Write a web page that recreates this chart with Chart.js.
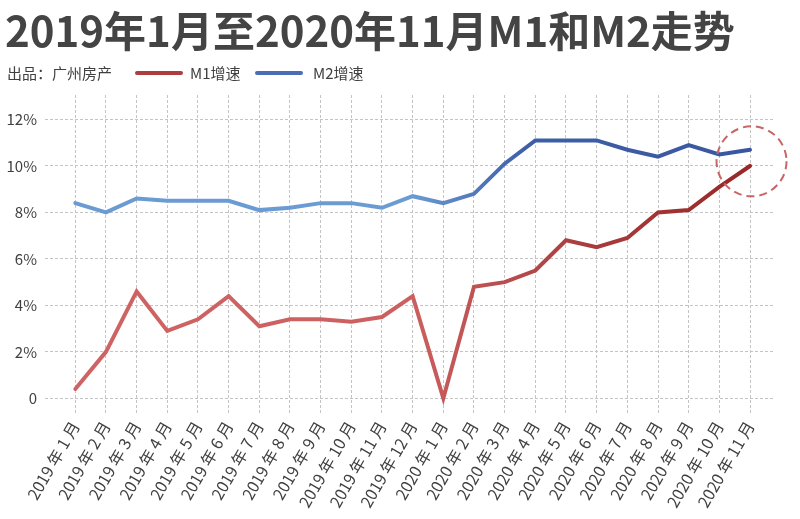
<!DOCTYPE html>
<html>
<head>
<meta charset="utf-8">
<script src="https://cdn.jsdelivr.net/npm/chart.js@4/dist/chart.umd.min.js"></script>
<style>
  html, body { margin: 0; padding: 0; background: #ffffff; }
  body { width: 800px; height: 519px; position: relative; overflow: hidden; font-family: "Noto Sans CJK SC", "Noto Sans", sans-serif; }
  #title { position: absolute; left: 5px; top: -1px; font-size: 42px; font-weight: bold; color: #444444; white-space: nowrap; line-height: 60px; }
  #legend { position: absolute; left: 7px; top: 62px; height: 22px; font-size: 15px; color: #404040; white-space: nowrap; line-height: 22px; }
  #legend span { position: absolute; top: 0; }
  .sw { position: absolute; top: 9px; height: 4px; border-radius: 2px; width: 48px; }
  #wrap { position: absolute; left: 0; top: 0; width: 800px; height: 519px; }
</style>
</head>
<body>
<div id="wrap"><canvas id="c" width="800" height="519"></canvas></div>
<div id="title">2019年1月至2020年11月M1和M2走势</div>
<div id="legend">
  <span style="left:0px">出品：广州房产</span>
  <div class="sw" style="left:128px;background:#b03d3d"></div>
  <span style="left:183px">M1增速</span>
  <div class="sw" style="left:248px;background:#4a6db5"></div>
  <span style="left:306px">M2增速</span>
</div>
<script>
const categories = ["2019 年 1 月","2019 年 2 月","2019 年 3 月","2019 年 4 月","2019 年 5 月","2019 年 6 月","2019 年 7 月","2019 年 8 月","2019 年 9 月","2019 年 10 月","2019 年 11 月","2019 年 12 月","2020 年 1 月","2020 年 2 月","2020 年 3 月","2020 年 4 月","2020 年 5 月","2020 年 6 月","2020 年 7 月","2020 年 8 月","2020 年 9 月","2020 年 10 月","2020 年 11 月"];
const m1 = [0.4, 2.0, 4.6, 2.9, 3.4, 4.4, 3.1, 3.4, 3.4, 3.3, 3.5, 4.4, 0.0, 4.8, 5.0, 5.5, 6.8, 6.5, 6.9, 8.0, 8.1, 9.1, 10.0];
const m2 = [8.4, 8.0, 8.6, 8.5, 8.5, 8.5, 8.1, 8.2, 8.4, 8.4, 8.2, 8.7, 8.4, 8.8, 10.1, 11.1, 11.1, 11.1, 10.7, 10.4, 10.9, 10.5, 10.7];
const yTicks = [0, 2, 4, 6, 8, 10, 12];
const seriesNames = ["M1增速", "M2增速"];

function gradient(ctx, area, stops) {
  const g = ctx.createLinearGradient(area.left, 0, area.right, 0);
  stops.forEach(s => g.addColorStop(s[0], s[1]));
  return g;
}

const circlePlugin = {
  id: 'circleMark',
  afterDatasetsDraw(chart) {
    const { ctx, scales } = chart;
    const idx = categories.length - 1;
    const cx = scales.x.getPixelForValue(idx + 0.05);
    const cy = scales.y.getPixelForValue(10.2);
    ctx.save();
    ctx.beginPath();
    ctx.arc(cx, cy, 35, 0, Math.PI * 2);
    ctx.strokeStyle = '#c86565';
    ctx.lineWidth = 2;
    ctx.setLineDash([8, 5]);
    ctx.stroke();
    ctx.restore();
  }
};

const font = { family: '"Noto Sans CJK SC", "Noto Sans", sans-serif' };

new Chart(document.getElementById('c'), {
  type: 'line',
  data: {
    datasets: [
      {
        label: seriesNames[0],
        data: m1.map((v, i) => ({ x: i, y: v })),
        borderWidth: 4,
        borderColor: (c) => {
          const a = c.chart.chartArea; if (!a) return '#c05050';
          return gradient(c.chart.ctx, a, [[0, '#cf6464'], [0.5, '#cc6060'], [0.75, '#a83c3c'], [1, '#962424']]);
        },
        pointRadius: 0,
        tension: 0,
        borderJoinStyle: 'miter',
        borderCapStyle: 'round'
      },
      {
        label: seriesNames[1],
        data: m2.map((v, i) => ({ x: i, y: v })),
        borderWidth: 4,
        borderColor: (c) => {
          const a = c.chart.chartArea; if (!a) return '#4a6db5';
          return gradient(c.chart.ctx, a, [[0, '#6a9bd3'], [0.5, '#6a9bd3'], [0.66, '#3d5fa8'], [1, '#3a559f']]);
        },
        pointRadius: 0,
        tension: 0,
        borderJoinStyle: 'miter',
        borderCapStyle: 'round'
      }
    ]
  },
  options: {
    responsive: false,
    animation: false,
    events: [],
    layout: { padding: { top: 95, right: 25, left: 0, bottom: 0 } },
    plugins: { legend: { display: false }, title: { display: false }, tooltip: { enabled: false } },
    scales: {
      x: {
        type: 'linear',
        min: -0.988,
        max: 22.815,
        afterBuildTicks: (s) => { s.ticks = categories.map((_, i) => ({ value: i })); },
        afterFit: (s) => { s.height = 106; },
        grid: { color: '#c4c4c4', lineWidth: 1, drawTicks: false },
        border: { display: false, dash: [3, 2] },
        ticks: {
          autoSkip: false,
          minRotation: 60,
          maxRotation: 60,
          padding: 5,
          color: '#404040',
          font: { ...font, size: 16 },
          callback: (v) => categories[v] ?? ''
        }
      },
      y: {
        type: 'linear',
        min: -0.633,
        max: 13.055,
        afterBuildTicks: (s) => { s.ticks = yTicks.map(v => ({ value: v })); },
        afterFit: (s) => { s.width = 45; },
        grid: { color: '#c4c4c4', lineWidth: 1, drawTicks: false },
        border: { display: false, dash: [3, 2] },
        ticks: {
          padding: 8,
          color: '#404040',
          font: { ...font, size: 15 },
          callback: (v) => v === 0 ? '0' : v + '%'
        }
      }
    }
  },
  plugins: [circlePlugin]
});
</script>
</body>
</html>
